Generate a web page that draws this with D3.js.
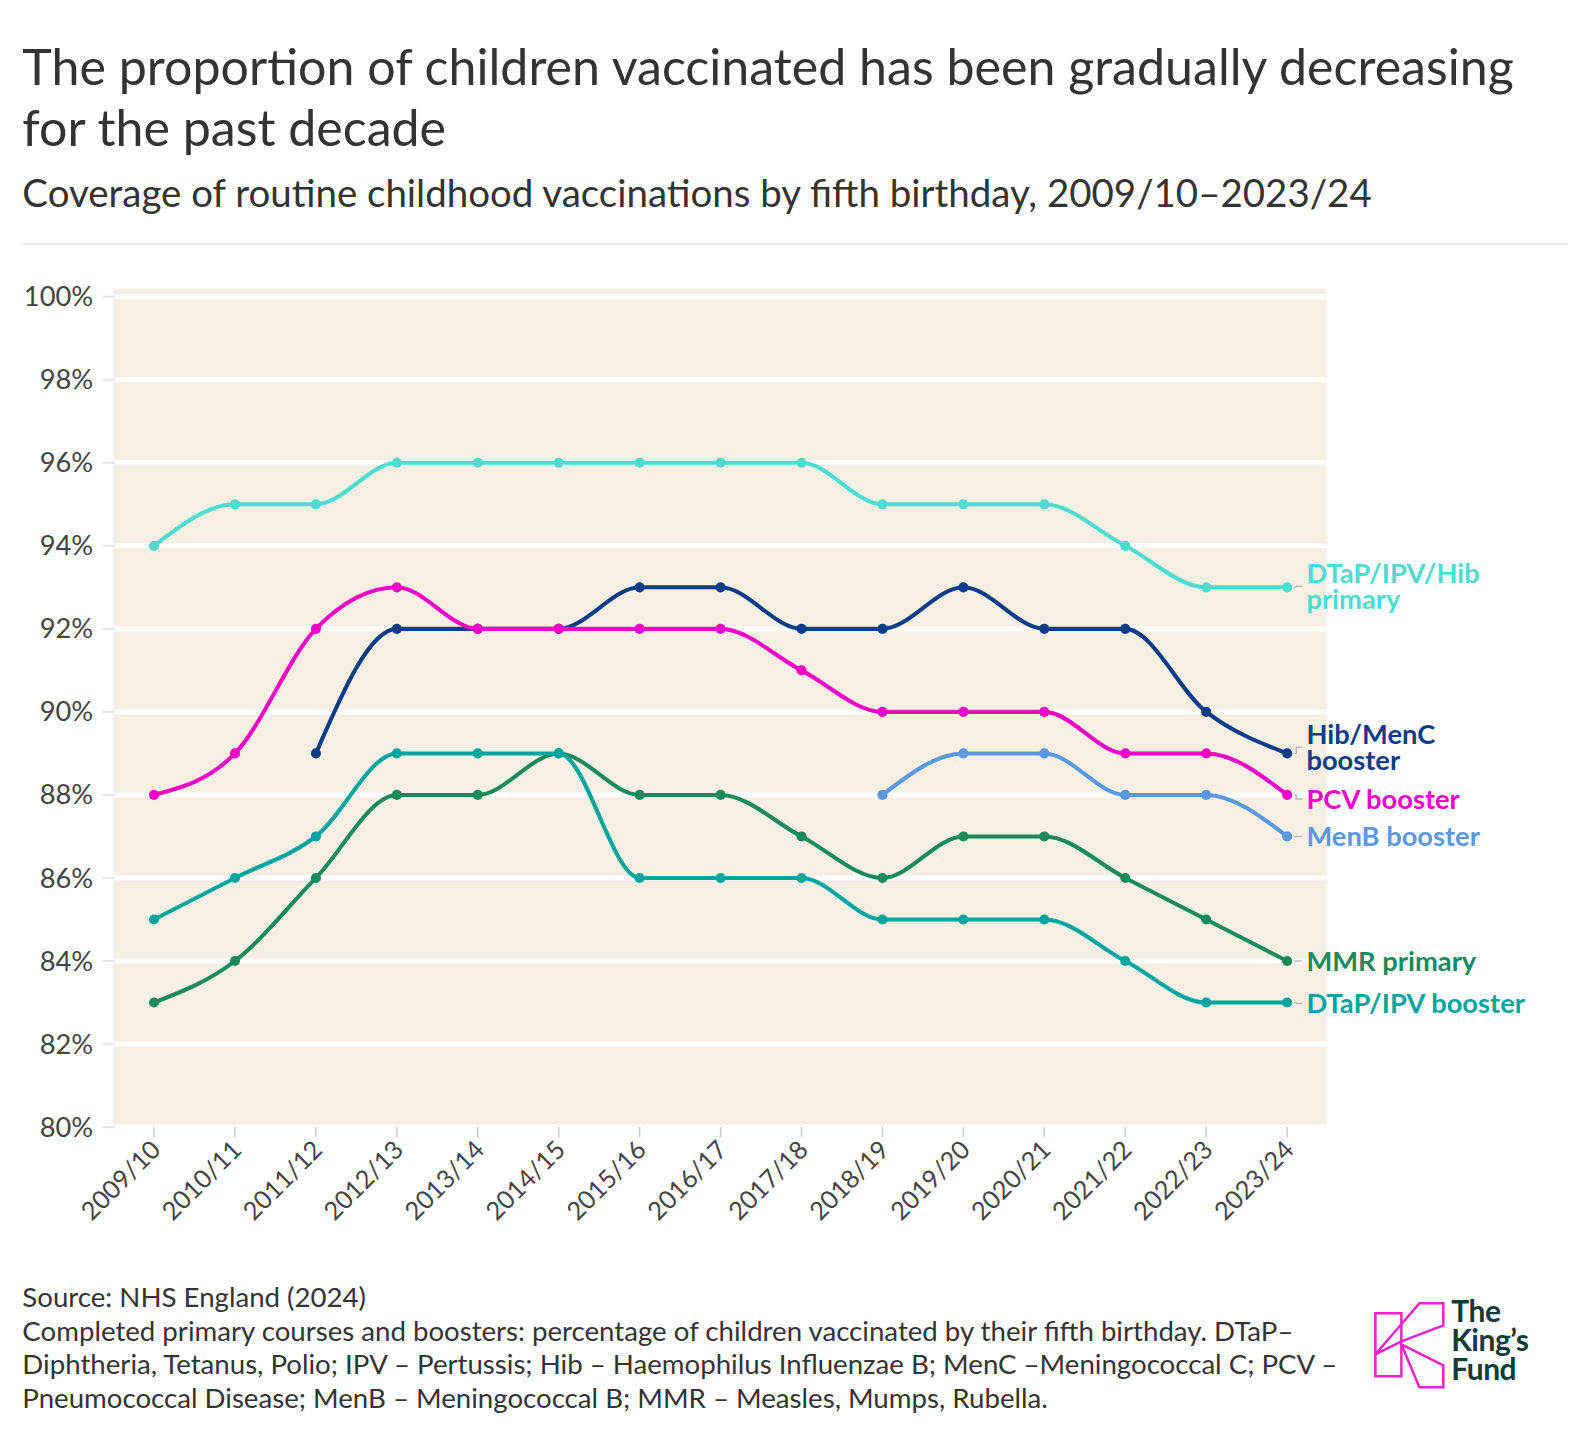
<!DOCTYPE html>
<html><head><meta charset="utf-8">
<script src="https://cdn.jsdelivr.net/npm/d3@7"></script>
<style>body{margin:0;background:#fff;font-family:Lato,"Noto Sans",sans-serif;}svg{display:block}</style>
</head><body><svg id="chart" width="1588" height="1442" viewBox="0 0 1568 1424"></svg>
<script>
const years = ["2009/10","2010/11","2011/12","2012/13","2013/14","2014/15","2015/16","2016/17","2017/18","2018/19","2019/20","2020/21","2021/22","2022/23","2023/24"];
const yTicks = [80,82,84,86,88,90,92,94,96,98,100];
const hibPrimary = [94,95,95,96,96,96,96,96,96,95,95,95,94,93,93];
const hibMenC = [null,null,89,92,92,92,93,93,92,92,93,92,92,90,89];
const pcv = [88,89,92,93,92,92,92,92,91,90,90,90,89,89,88];
const menB = [null,null,null,null,null,null,null,null,null,88,89,89,88,88,87];
const mmr = [83,84,86,88,88,89,88,88,87,86,87,87,86,85,84];
const dtapBooster = [85,86,87,89,89,89,86,86,86,85,85,85,84,83,83];

const series = [
  {name:["DTaP/IPV/Hib","primary"], values:hibPrimary, color:"#4fdcd0", labelY:579},
  {name:["Hib/MenC","booster"], values:hibMenC, color:"#0b3d86", labelY:738},
  {name:["PCV booster"], values:pcv, color:"#ee00c8", labelY:789},
  {name:["MenB booster"], values:menB, color:"#5b98e0", labelY:826},
  {name:["MMR primary"], values:mmr, color:"#1a8a5c", labelY:949},
  {name:["DTaP/IPV booster"], values:dtapBooster, color:"#00a59f", labelY:991}
];

const svg = d3.select("#chart");
const pLeft = 113, pRight = 1310, pTop = 293, pBottom = 1113;
const x = d3.scalePoint().domain(years).range([152,1271]);
const y = d3.scaleLinear().domain([80,100]).range([pBottom, pTop]);

// titles
svg.append("text").attr("x",22).attr("y",84).attr("font-size",49.5).attr("fill","#333")
  .text("The proportion of children vaccinated has been gradually decreasing");
svg.append("text").attr("x",22).attr("y",144).attr("font-size",49.5).attr("fill","#333")
  .text("for the past decade");
svg.append("text").attr("x",22).attr("y",204).attr("font-size",38).attr("fill","#333")
  .text("Coverage of routine childhood vaccinations by fifth birthday, 2009/10–2023/24");
svg.append("line").attr("x1",22).attr("x2",1548).attr("y1",241).attr("y2",241)
  .attr("stroke","#ecebe0").attr("stroke-width",1.5);

// plot background
svg.append("rect").attr("x",pLeft).attr("y",pTop-8).attr("width",pRight-pLeft).attr("height",pBottom-pTop+8).attr("fill","#f5efe4");
svg.append("line").attr("x1",pLeft).attr("x2",pLeft).attr("y1",pTop-8).attr("y2",pBottom).attr("stroke","#eee").attr("stroke-width",2);

// grid + y axis
yTicks.forEach(t => {
  svg.append("line").attr("x1",pLeft).attr("x2",pRight).attr("y1",y(t)).attr("y2",y(t))
    .attr("stroke","#fff").attr("stroke-width",5);
  svg.append("line").attr("x1",101).attr("x2",pLeft).attr("y1",y(t)).attr("y2",y(t))
    .attr("stroke","#e6e6e6").attr("stroke-width",2);
  svg.append("text").attr("x",92).attr("y",y(t)).attr("dy","0.35em").attr("text-anchor","end")
    .attr("font-size",27).attr("fill","#444").text(t+"%");
});

// x axis
years.forEach(yr => {
  svg.append("line").attr("x1",x(yr)).attr("x2",x(yr)).attr("y1",pBottom).attr("y2",pBottom+10)
    .attr("stroke","#ccc").attr("stroke-width",1.5);
  svg.append("text").attr("transform",`translate(${x(yr)+8},${pBottom+24}) rotate(-45)`)
    .attr("text-anchor","end").attr("font-size",25).attr("fill","#444").text(yr);
});

// lines
const line = d3.line().defined(d => d.v != null).x(d => x(d.yr)).y(d => y(d.v)).curve(d3.curveMonotoneX);
series.forEach(s => {
  const pts = s.values.map((v,i) => ({yr:years[i], v}));
  svg.append("path").datum(pts).attr("d",line).attr("fill","none")
    .attr("stroke",s.color).attr("stroke-width",4);
  svg.selectAll(null).data(pts.filter(d => d.v != null)).join("circle")
    .attr("cx",d => x(d.yr)).attr("cy",d => y(d.v)).attr("r",5).attr("fill",s.color);
  const last = pts[pts.length-1];
  const ly = s.labelY;
  svg.append("path").attr("d",`M${x(last.yr)+7},${y(last.v)}H1280V${ly}H1286`)
    .attr("fill","none").attr("stroke","#bbb").attr("stroke-width",1.5);
  const t = svg.append("text").attr("x",1290).attr("font-size",27).attr("font-weight",700).attr("fill",s.color);
  const off = s.name.length === 2 ? -13 : 0;
  s.name.forEach((n,i) => t.append("tspan").attr("x",1290).attr("y",ly+off+i*26).attr("dy","0.35em").text(n));
});

// footer
const foot = ["Source: NHS England (2024)",
  "Completed primary courses and boosters: percentage of children vaccinated by their fifth birthday. DTaP–",
  "Diphtheria, Tetanus, Polio; IPV – Pertussis; Hib – Haemophilus Influenzae B; MenC –Meningococcal C; PCV –",
  "Pneumococcal Disease; MenB – Meningococcal B; MMR – Measles, Mumps, Rubella."];
foot.forEach((f,i) => svg.append("text").attr("x",22).attr("y",1291+i*33).attr("font-size",27.3).attr("fill","#333").text(f));

// logo
const logo = svg.append("g").attr("transform","scale(0.987)");
const g = logo.append("g").attr("fill","none").attr("stroke","#ee22cc").attr("stroke-width",2.5);
g.append("path").attr("d","M1376,1314H1402V1377H1376Z");
g.append("path").attr("d","M1376,1355L1402,1342L1444,1326V1304H1420L1402,1325L1376,1355");
g.append("path").attr("d","M1402,1345L1420,1388H1444V1366L1402,1345");
const lg = logo.append("g").attr("fill","#0f3b3a").attr("font-size",30).attr("font-weight",700).attr("letter-spacing",-0.5);
["The","King’s","Fund"].forEach((w,i) => lg.append("text").attr("x",1452).attr("y",1323+i*29).text(w));
</script></body></html>
